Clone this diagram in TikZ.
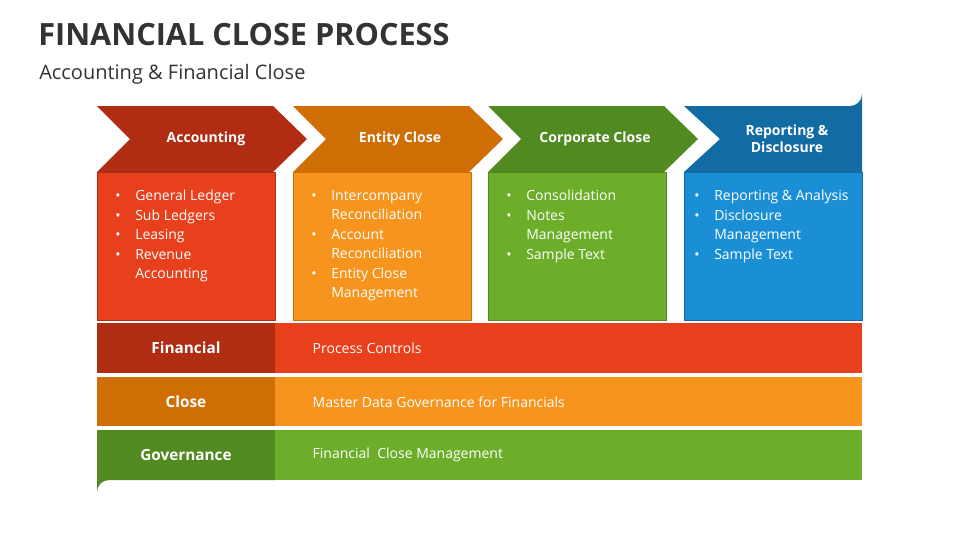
\documentclass[tikz,border=0pt]{standalone}
\usepackage{fontspec}
\setmainfont{Open Sans}
\definecolor{redL}{HTML}{E8401C}
\definecolor{redD}{HTML}{B02C12}
\definecolor{orgL}{HTML}{F7941D}
\definecolor{orgD}{HTML}{D06E06}
\definecolor{grnL}{HTML}{6CAE2A}
\definecolor{grnD}{HTML}{508A20}
\definecolor{bluL}{HTML}{1B8FD6}
\definecolor{bluD}{HTML}{136BA3}
\definecolor{ttl}{HTML}{333333}
\newcommand{\itm}{\makebox[15pt][l]{\textbullet}}
\newcommand{\ind}{\hspace*{15pt}}
\tikzset{
    head/.style={text=white, font=\bfseries\fontsize{10.5}{13}\selectfont, align=center},
    bul/.style={text=white, font=\fontsize{10.5}{14.6}\selectfont, align=left, anchor=north west, inner sep=0pt},
    row/.style={text=white, font=\fontsize{10.5}{13}\selectfont, anchor=west},
    rowlab/.style={text=white, font=\bfseries\fontsize{11.5}{13}\selectfont},
}
\begin{document}
\begin{tikzpicture}[x=0.75pt, y=-0.75pt]
            \useasboundingbox (0,0) rectangle (960,540);

            \node[anchor=west, text=ttl, font=\bfseries\fontsize{23}{26}\selectfont, inner sep=0pt] (title) at (38, 35) {FINANCIAL CLOSE PROCESS};
            \node[anchor=west, text=ttl, font=\fontsize{15}{18}\selectfont, inner sep=0pt] (sub) at (39, 74) {Accounting \& Financial Close};

            % chevrons and boxes
            \foreach \x/\cl/\cd in {97/redL/redD, 293/orgL/orgD, 488/grnL/grnD}{
                \fill[\cd] (\x,106) -- (\x+176,106) -- (\x+210,139) -- (\x+176,172)
                           -- (\x,172) -- (\x+33,139) -- cycle;
                \fill[\cl, draw=\cd, line width=0.6pt] (\x,172) rectangle (\x+178,320);
            }
            \fill[bluD] (684,106) -- (850,106) arc (90:0:12) -- (862,172)
                        -- (684,172) -- (720,139) -- cycle;
            \fill[bluL, draw=bluD, line width=0.6pt] (684,172) rectangle (862,320);

            \node[head] (acc) at (206, 139) {Accounting};
            \node[head] (ent) at (400, 139) {Entity Close};
            \node[head] (cor) at (595, 139) {Corporate Close};
            \node[head] (rep) at (787, 139) {Reporting \&\\Disclosure};

            \node[bul] (accL) at (115, 190) {\itm General Ledger\\\itm Sub Ledgers\\\itm Leasing\\\itm Revenue\\\ind Accounting};
            \node[bul] (entL) at (311, 190) {\itm Intercompany\\\ind Reconciliation\\\itm Account\\\ind Reconciliation\\\itm Entity Close\\\ind Management};
            \node[bul] (corL) at (506, 190) {\itm Consolidation\\\itm Notes\\\ind Management\\\itm Sample Text};
            \node[bul] (repL) at (694, 190) {\itm Reporting \& Analysis\\\itm Disclosure\\\ind Management\\\itm Sample Text};

            % governance rows
            \fill[redD] (97,323) rectangle (275,373);
            \fill[redL] (275,323) rectangle (862,373);
            \fill[orgD] (97,377) rectangle (275,426);
            \fill[orgL] (275,377) rectangle (862,426);
            \fill[grnD] (109,480) arc (270:180:12) -- (97,430) -- (275,430) -- (275,480) -- cycle;
            \fill[grnL] (275,430) rectangle (862,480);

            \node[rowlab] (fin) at (186, 348) {Financial};
            \node[rowlab] (clo) at (186, 402) {Close};
            \node[rowlab] (gov) at (186, 455) {Governance};

            \node[row] (pc) at (308, 348) {Process Controls};
            \node[row] (md) at (308, 402) {Master Data Governance for Financials};
            \node[row] (fc) at (308, 455) {Financial\ \ Close Management};
\end{tikzpicture}
\end{document}
